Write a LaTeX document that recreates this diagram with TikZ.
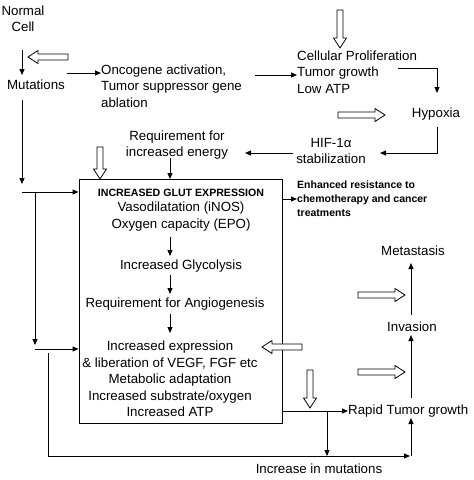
\documentclass[tikz,border=0pt]{standalone}
\usepackage{fontspec}
\setmainfont{Liberation Sans}
\usetikzlibrary{arrows.meta}
\newcommand\hollowarr[4]{% name, center, length, rotation
  \begin{scope}[shift={#2},rotate=#4]
    \coordinate (#1) at (0,0);
    \draw[hollowline] ({-#3/2},-3) -- ({#3/2-10},-3) -- ({#3/2-10},-6.5) -- ({#3/2},0)
      -- ({#3/2-10},6.5) -- ({#3/2-10},3) -- ({-#3/2},3) -- cycle;
  \end{scope}}
\begin{document}
\begin{tikzpicture}[x=1pt,y=-1pt,
 txt/.style={inner sep=0pt,font=\fontsize{13.3}{16.3}\selectfont,align=center},
 txtl/.style={txt,align=left},
 boldtxt/.style={inner sep=0pt,font=\bfseries\fontsize{10.5}{14}\selectfont,align=left},
 arr/.style={line width=1pt,-{Triangle[length=6pt,width=5pt]}},
 ln/.style={line width=1pt},
 hollowline/.style={draw=black,fill=white,line width=0.8pt,line join=miter},
]
\fill[white] (0,0) rectangle (474,480);
\useasboundingbox (0,0) rectangle (474,480);

% text nodes
\node[txt] (normal) at (23,19) {Normal\\Cell};
\node[txt] (mut) at (36,85) {Mutations};
\node[txtl,anchor=west] (onco) at (101,86) {Oncogene activation,\\Tumor suppressor gene\\ablation};
\node[txtl,anchor=west] (cell) at (297,72) {Cellular Proliferation\\Tumor growth\\Low ATP};
\node[txt] (hyp) at (436,114) {Hypoxia};
\node[txt] (hif) at (331,151) {HIF-1α\\stabilization};
\node[txt] (req) at (177,145) {Requirement for\\increased energy};

% box
\node[draw,line width=1pt,minimum width=203pt,minimum height=244pt,inner sep=0pt] (box) at (180.5,301) {};
\node[inner sep=0pt,font=\bfseries\fontsize{10.6}{13}\selectfont] (glut) at (181,193) {INCREASED GLUT EXPRESSION};
\node[txt] (vaso) at (181,216.5) {Vasodilatation (iNOS)\\Oxygen capacity (EPO)};
\node[txt] (glyc) at (181,266) {Increased Glycolysis};
\node[txt] (angio) at (175,304) {Requirement for Angiogenesis};
\node[txt,font=\fontsize{13.3}{16.5}\selectfont] (vegf) at (170,379) {Increased expression\\\& liberation of VEGF, FGF etc\\Metabolic adaptation\\Increased substrate/oxygen\\Increased ATP};

\node[boldtxt,anchor=west] (enh) at (297,199) {Enhanced resistance to\\chemotherapy and cancer\\treatments};
\node[txt] (meta) at (413,251) {Metastasis};
\node[txt] (inv) at (412,327) {Invasion};
\node[txt,anchor=west] (rapid) at (348,411) {Rapid Tumor growth};
\node[txt] (incr) at (319,469) {Increase in mutations};

% hollow arrows
\hollowarr{h1}{(48,57)}{40}{180}
\hollowarr{h2}{(340,29)}{38}{270}
\hollowarr{h3}{(361.5,115)}{47}{0}
\hollowarr{h4}{(100,163)}{32}{270}
\hollowarr{h5}{(381.5,295)}{47}{0}
\hollowarr{h7}{(381.5,372)}{47}{0}
\hollowarr{h8}{(310,389)}{38}{270}

% junction coordinates
\coordinate (jA) at (22,192);
\coordinate (jB) at (35,349);
\coordinate (jC) at (48,456);
\coordinate (jD) at (327,411);

% connectors
\draw[arr] (22,50) -- (22,75);
\draw[arr] (67,73) -- (onco.west |- 0,73);
\draw[arr] (255,75) -- (cell.west |- 0,75);
\draw[arr] (398,68) -| (437,93);
\draw[arr] (437,127) |- (380,153);
\draw[arr] (293,153) -- (245,153);
\draw[arr] (170,158) -- (170,179);
\draw[arr] (22,100) -- (22,184);
\draw[arr] (jA) -- (box.west |- jA);
\draw[arr] (35,192) -- (35,345);
\draw[arr] (jB) -- (box.west |- jB);
\draw[ln] (48,353) -- (jC);
\draw[arr] (jC) -- (410,456);
\draw[arr] (411,456) -- (411,418);
\draw[arr] (box.east |- jD) -- (rapid.west);
\draw[arr] (jD) -- (327,456);
\draw[arr] (411,398) -- (411,335);
\draw[arr] (411,315) -- (411,263);
\draw[arr] (box.east |- 0,199) -- (enh.west |- 0,199);
\draw[arr] (170,237) -- (170,256);
\draw[arr] (170,275) -- (170,294);
\draw[arr] (170,314) -- (170,333);

\hollowarr{h6}{(282,347)}{40}{180}
\end{tikzpicture}
\end{document}
